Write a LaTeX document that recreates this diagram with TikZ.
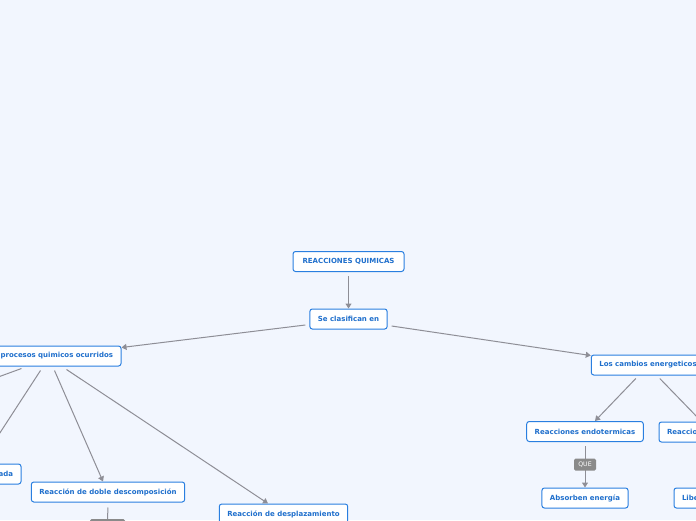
\documentclass[tikz,border=0pt]{standalone}
\usepackage{fontspec}
\setmainfont{DejaVu Sans}
\usetikzlibrary{arrows.meta}
\definecolor{bg}{HTML}{F2F6FE}
\definecolor{bblue}{HTML}{2A7FE0}
\definecolor{tblue}{HTML}{1F6FCC}
\definecolor{lgray}{HTML}{8E8E96}
\definecolor{qgray}{HTML}{8A8A8A}
\begin{document}
\begin{tikzpicture}[x=1pt,y=-1pt,
  mbox/.style={draw=bblue, fill=white, rounded corners=2.5pt, line width=1pt,
    font=\fontsize{7}{8}\selectfont\bfseries, text=tblue, minimum height=20pt,
    inner xsep=8pt, inner ysep=0pt},
  conn/.style={draw=lgray, line width=1pt, -{Triangle[length=5pt,width=6pt]}},
  plain/.style={draw=lgray, line width=1pt},
  quelbl/.style={fill=qgray, rounded corners=1.5pt, text=white,
    font=\fontsize{6.2}{7}\selectfont, minimum width=22pt, minimum height=12pt, inner sep=0pt}]
\useasboundingbox (0,0) rectangle (696,520);
\fill[bg] (0,0) rectangle (696,520);
\clip (0,0) rectangle (696,520);

% nodes
\node[mbox, minimum width=111pt] (rq) at (348.5,261.5) {REACCIONES QUIMICAS};
\node[mbox, minimum width=77pt] (se) at (348.5,319) {Se clasifican en};
\node[mbox, text width=145pt, align=right] (proc) at (40.5,356) {procesos quimicos ocurridos};
\node[mbox, text width=105pt, align=right] (ada) at (-39.5,474) {ada};
\node[mbox, minimum width=152pt] (doble) at (108,492) {Reacción de doble descomposición};
\node[mbox, minimum width=127pt] (desp) at (283.5,514) {Reacción de desplazamiento};
\node[mbox, minimum width=112pt] (cambios) at (648,365) {Los cambios energeticos};
\node[mbox, minimum width=116pt] (endo) at (585,431.5) {Reacciones endotermicas};
\node[mbox, text width=100pt, align=left] (exo) at (717,432) {Reaccio};
\node[mbox, minimum width=85pt] (abs) at (585,498) {Absorben energía};
\node[mbox, text width=90pt, align=left] (libe) at (727,498) {Libe};
\node[quelbl, minimum width=35pt] (lbl2) at (107.5,525) {};
\coordinate (offl) at (-120,420);

% connectors
\draw[conn] ([yshift=-4pt]rq.south) -- (se.north);
\draw[conn] ([shift={(-4pt,-6pt)}]se.west) -- ([yshift=-2pt]proc.north east);
\draw[conn] ([shift={(4pt,-7pt)}]se.east) -- ([yshift=-1pt]cambios.north west);
\draw[plain] ([shift={(62pt,-2pt)}]proc.south west) -- (offl);
\draw[conn] ([shift={(81pt,-4pt)}]proc.south west) -- ([xshift=19.5pt]ada.north);
\draw[conn] ([shift={(95pt,-4pt)}]proc.south west) -- ([xshift=-5pt]doble.north);
\draw[conn] ([shift={(107pt,-3pt)}]proc.south west) -- ([xshift=-15.5pt]desp.north);
\draw[plain] ([yshift=-5pt]doble.south) -- (lbl2.north);
\draw[conn] ([shift={(45pt,-3pt)}]cambios.south west) -- ([xshift=10pt]endo.north);
\draw[conn] ([shift={(69pt,-3pt)}]cambios.south west) -- ([xshift=43pt]exo.north west);
\draw[conn] ([yshift=-4pt]endo.south) -- node[quelbl, pos=0.45] {QUE} (abs.north);
\end{tikzpicture}
\end{document}
